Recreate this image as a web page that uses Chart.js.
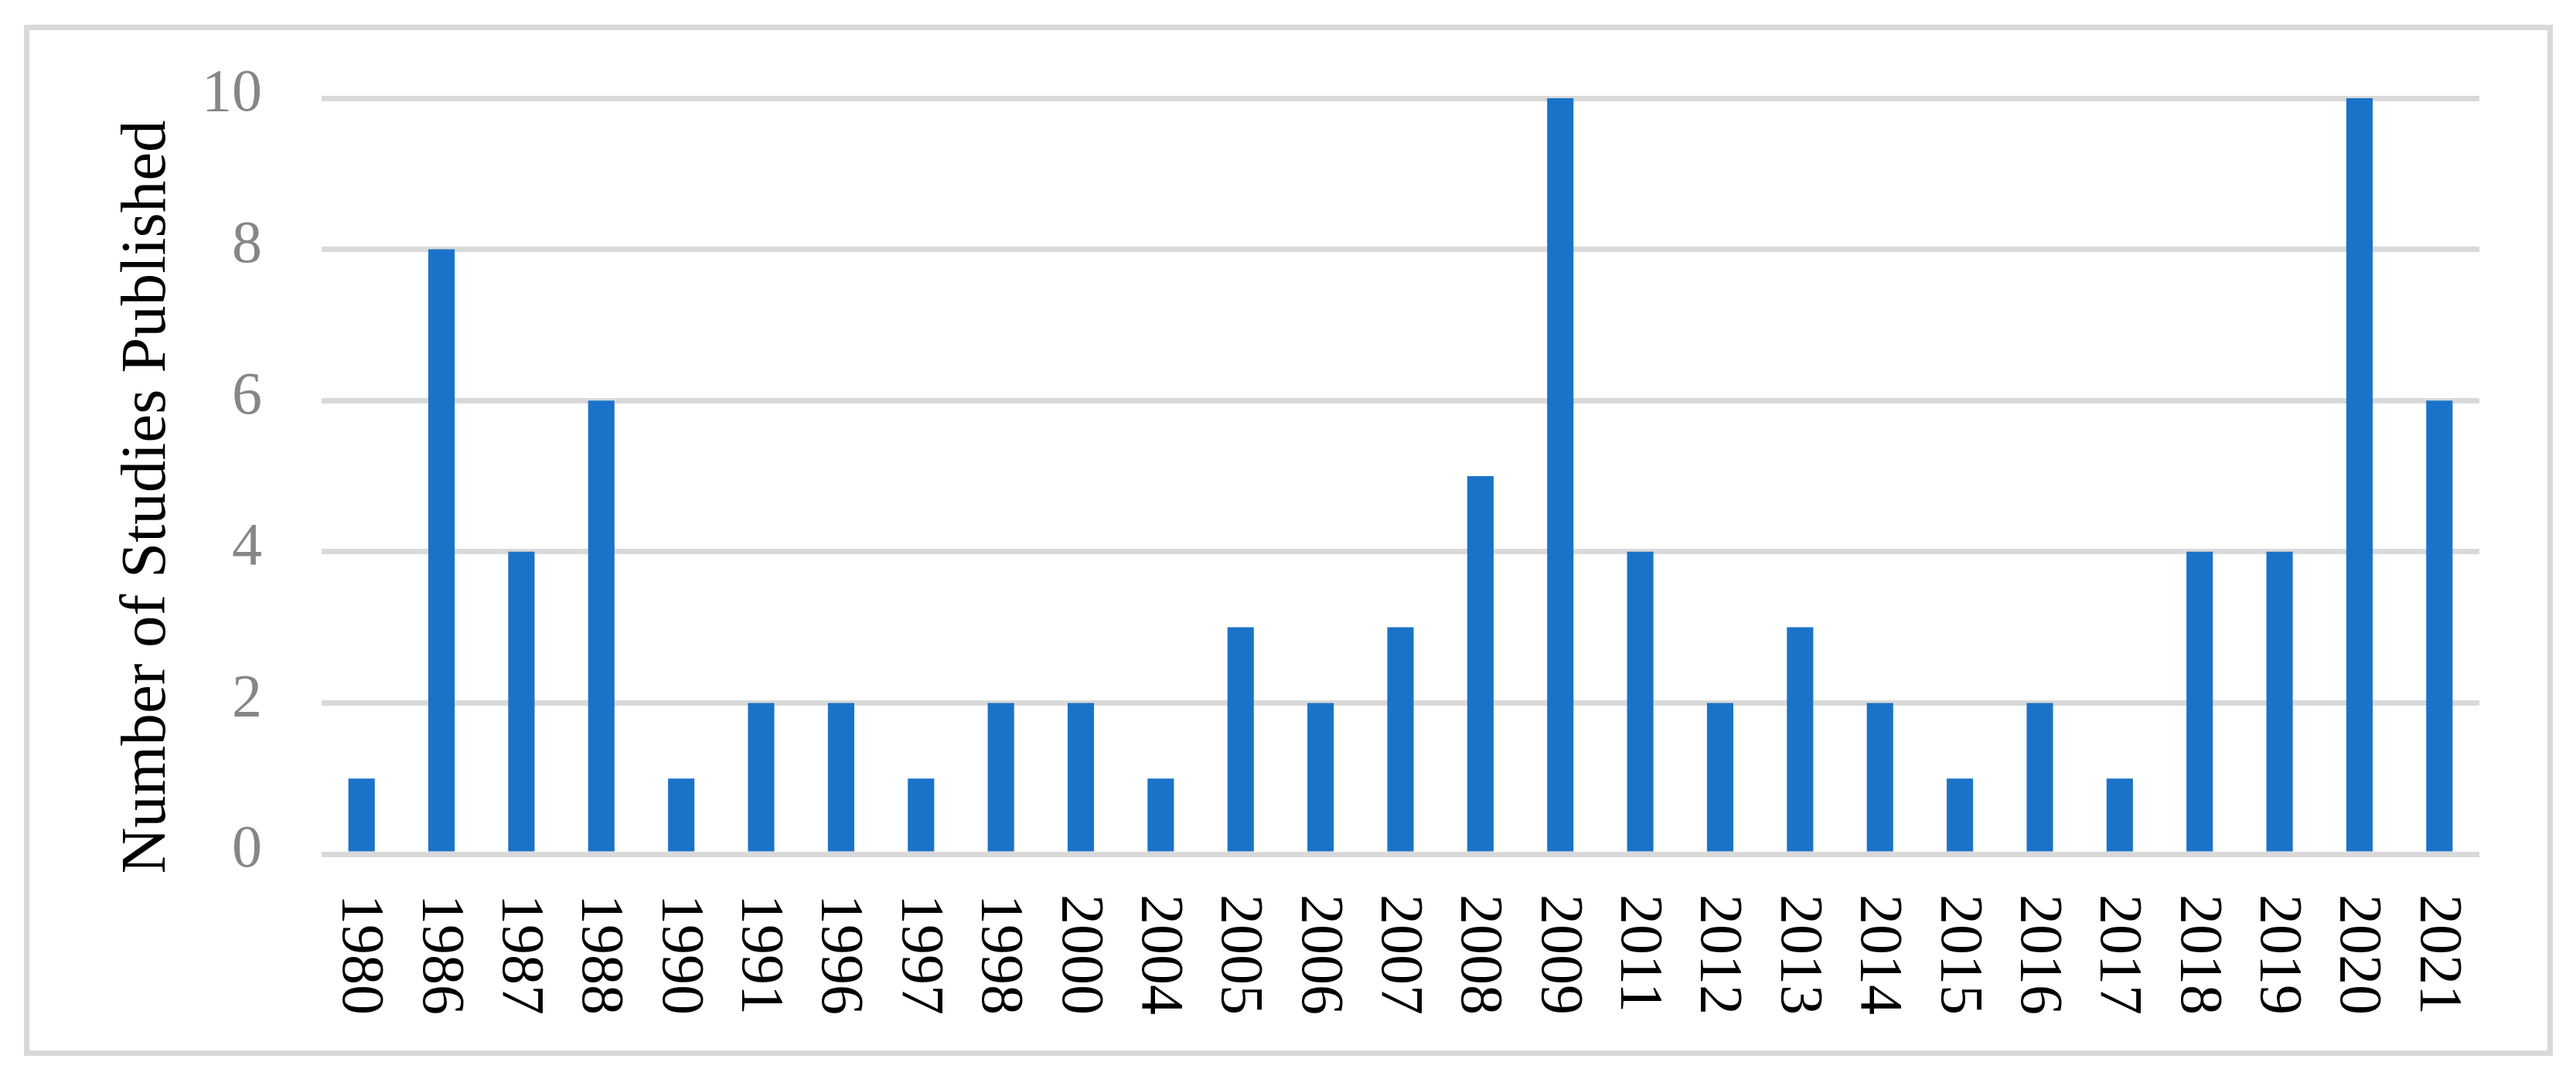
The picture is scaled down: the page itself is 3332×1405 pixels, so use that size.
<!DOCTYPE html>
<html>
<head>
<meta charset="utf-8">
<script src="https://cdn.jsdelivr.net/npm/chart.js@4"></script>
<style>
body{margin:0;background:#fff}
#moldura{position:absolute;left:31px;top:32px;width:3257px;height:1320px;border:7px solid #d9d9d9}
#grafico{position:absolute;left:0;top:0}
</style>
</head>
<body>
<div id="moldura"></div>
<canvas id="grafico" width="3332" height="1405"></canvas>
<script>
let anos=['1980','1986','1987','1988','1990','1991','1996','1997','1998','2000','2004','2005','2006','2007','2008','2009','2011','2012','2013','2014','2015','2016','2017','2018','2019','2020','2021']
let estudos=[1,8,4,6,1,2,2,1,2,2,1,3,2,3,5,10,4,2,3,2,1,2,1,4,4,10,6]
let tituloY='Number of Studies Published'

let fonte='"Liberation Serif","Times New Roman",serif'

// rotulos do eixo x girados no sentido horario (lidos de cima para baixo)
// e titulo do eixo y um pouco abaixo do centro, como no original
let rotulos={
id:'rotulos',
afterDraw(chart){
let ctx=chart.ctx
let x=chart.scales.x
let y=chart.scales.y
ctx.save()
ctx.fillStyle='#000'
ctx.font='78px '+fonte
ctx.textAlign='left'
ctx.textBaseline='middle'
anos.forEach((a,i)=>{
ctx.save()
ctx.translate(x.getPixelForTick(i)-3,x.top+52)
ctx.rotate(Math.PI/2)
ctx.fillText(a,0,0)
ctx.restore()
})
ctx.font='83px '+fonte
ctx.textAlign='center'
ctx.translate(y.left+50,(y.top+y.bottom)/2+27)
ctx.rotate(-Math.PI/2)
ctx.fillText(tituloY,0,0)
ctx.restore()
}
}

new Chart(document.getElementById('grafico'),{
type:'bar',
data:{
labels:anos,
datasets:[{
label:tituloY,
data:estudos,
backgroundColor:'#1a73c8',
barPercentage:0.33,
categoryPercentage:1
}]
},
options:{
responsive:false,
devicePixelRatio:1,
animation:false,
layout:{
padding:{left:141,right:125,top:127,bottom:0}
},
plugins:{
legend:{display:false},
tooltip:{enabled:false}
},
scales:{
x:{
grid:{display:false},
border:{display:false},
ticks:{display:false},
afterFit(s){s.height=300}
},
y:{
min:0,
max:10,
ticks:{
stepSize:2,
color:'#868686',
padding:77,
labelOffset:-4,
font:{family:fonte,size:78}
},
grid:{
color:'#d9d9d9',
lineWidth:7,
drawTicks:false
},
border:{display:false},
afterFit(s){s.width=275}
}
}
},
plugins:[rotulos]
})
</script>
</body>
</html>
